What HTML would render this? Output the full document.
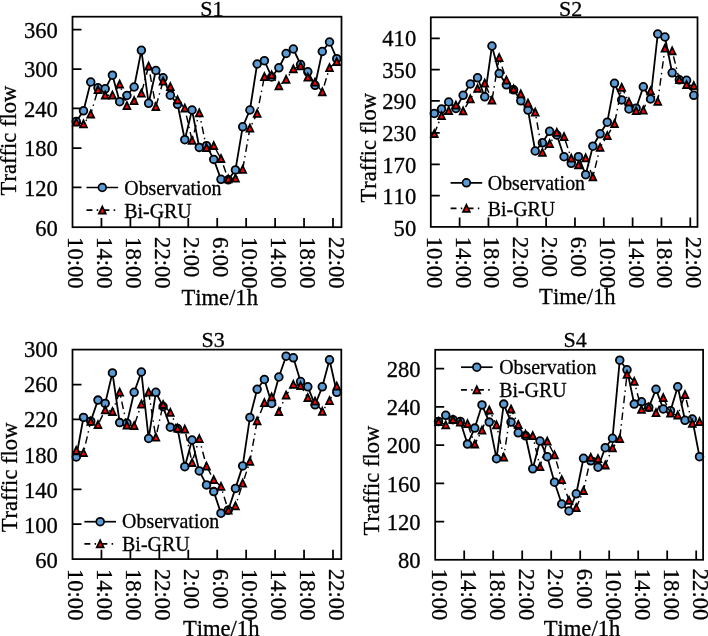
<!DOCTYPE html>
<html lang="en"><head><meta charset="utf-8"><title>Traffic flow prediction S1-S4</title>
<style>html,body{margin:0;padding:0;background:#fff}body{width:708px;height:636px;overflow:hidden}svg{display:block}text{stroke:#000;stroke-width:.3px;font-variant-ligatures:none;font-kerning:none}</style>
</head><body>
<svg width="708" height="636" viewBox="0 0 708 636" font-family="'Liberation Serif', 'Times New Roman', serif" font-size="22.6" fill="#000">
<rect width="708" height="636" fill="#fff"/>
<g id="plot1">
<polyline points="76.26,121.5 83.5,110.8 90.73,82 97.97,87.8 105.2,88.8 112.44,75.2 119.68,101.7 126.91,95.5 134.15,87 141.38,50.3 148.62,103.3 155.86,70.5 163.09,77.8 170.33,95.2 177.56,104.3 184.8,139.7 192.04,110 199.27,147.4 206.51,145.7 213.74,159.4 220.98,179.3 228.22,179.8 235.45,169.9 242.69,126.8 249.92,110 257.16,64 264.4,60.7 271.63,77 278.87,67.8 286.1,53.5 293.34,49 300.58,64.5 307.81,71.8 315.05,85.3 322.28,51.5 329.52,42 336.76,58.7" fill="none" stroke="#000" stroke-width="1.8" stroke-linejoin="round"/>
<g fill="#5b9bd5" stroke="#000" stroke-width="1.8"><circle cx="76.26" cy="121.5" r="3.85"/><circle cx="83.5" cy="110.8" r="3.85"/><circle cx="90.73" cy="82" r="3.85"/><circle cx="97.97" cy="87.8" r="3.85"/><circle cx="105.2" cy="88.8" r="3.85"/><circle cx="112.44" cy="75.2" r="3.85"/><circle cx="119.68" cy="101.7" r="3.85"/><circle cx="126.91" cy="95.5" r="3.85"/><circle cx="134.15" cy="87" r="3.85"/><circle cx="141.38" cy="50.3" r="3.85"/><circle cx="148.62" cy="103.3" r="3.85"/><circle cx="155.86" cy="70.5" r="3.85"/><circle cx="163.09" cy="77.8" r="3.85"/><circle cx="170.33" cy="95.2" r="3.85"/><circle cx="177.56" cy="104.3" r="3.85"/><circle cx="184.8" cy="139.7" r="3.85"/><circle cx="192.04" cy="110" r="3.85"/><circle cx="199.27" cy="147.4" r="3.85"/><circle cx="206.51" cy="145.7" r="3.85"/><circle cx="213.74" cy="159.4" r="3.85"/><circle cx="220.98" cy="179.3" r="3.85"/><circle cx="228.22" cy="179.8" r="3.85"/><circle cx="235.45" cy="169.9" r="3.85"/><circle cx="242.69" cy="126.8" r="3.85"/><circle cx="249.92" cy="110" r="3.85"/><circle cx="257.16" cy="64" r="3.85"/><circle cx="264.4" cy="60.7" r="3.85"/><circle cx="271.63" cy="77" r="3.85"/><circle cx="278.87" cy="67.8" r="3.85"/><circle cx="286.1" cy="53.5" r="3.85"/><circle cx="293.34" cy="49" r="3.85"/><circle cx="300.58" cy="64.5" r="3.85"/><circle cx="307.81" cy="71.8" r="3.85"/><circle cx="315.05" cy="85.3" r="3.85"/><circle cx="322.28" cy="51.5" r="3.85"/><circle cx="329.52" cy="42" r="3.85"/><circle cx="336.76" cy="58.7" r="3.85"/></g>
<polyline points="76.26,122.3 83.5,124 90.73,114.2 97.97,89.7 105.2,95.3 112.44,95.3 119.68,84.2 126.91,105.8 134.15,100.8 141.38,93.3 148.62,66.3 155.86,106.7 163.09,81.2 170.33,86.7 177.56,100 184.8,108.2 192.04,140.5 199.27,113 206.51,147.8 213.74,145.7 220.98,158.6 228.22,179 235.45,178.2 242.69,169.4 249.92,128.2 257.16,113.4 264.4,76.7 271.63,74.9 278.87,86 286.1,79.5 293.34,69 300.58,66 307.81,77.3 315.05,82.3 322.28,92 329.52,67.7 336.76,61.8" fill="none" stroke="#000" stroke-width="1.45" stroke-dasharray="7.5 3.8 1.5 4.2" stroke-linejoin="round"/>
<g fill="#ff0000" stroke="#000" stroke-width="1.8" stroke-linejoin="miter"><path d="M76.26 118.69L79.65 125.7L72.87 125.7Z"/><path d="M83.5 120.39L86.88 127.4L80.11 127.4Z"/><path d="M90.73 110.59L94.12 117.6L87.34 117.6Z"/><path d="M97.97 86.09L101.36 93.1L94.58 93.1Z"/><path d="M105.2 91.69L108.59 98.7L101.82 98.7Z"/><path d="M112.44 91.69L115.83 98.7L109.05 98.7Z"/><path d="M119.68 80.59L123.06 87.6L116.29 87.6Z"/><path d="M126.91 102.19L130.3 109.2L123.52 109.2Z"/><path d="M134.15 97.19L137.54 104.2L130.76 104.2Z"/><path d="M141.38 89.69L144.77 96.7L138 96.7Z"/><path d="M148.62 62.69L152.01 69.7L145.23 69.7Z"/><path d="M155.86 103.09L159.24 110.1L152.47 110.1Z"/><path d="M163.09 77.59L166.48 84.6L159.7 84.6Z"/><path d="M170.33 83.09L173.72 90.1L166.94 90.1Z"/><path d="M177.56 96.39L180.95 103.4L174.18 103.4Z"/><path d="M184.8 104.59L188.19 111.6L181.41 111.6Z"/><path d="M192.04 136.89L195.42 143.9L188.65 143.9Z"/><path d="M199.27 109.39L202.66 116.4L195.88 116.4Z"/><path d="M206.51 144.19L209.9 151.2L203.12 151.2Z"/><path d="M213.74 142.09L217.13 149.1L210.36 149.1Z"/><path d="M220.98 154.99L224.37 162L217.59 162Z"/><path d="M228.22 175.39L231.6 182.4L224.83 182.4Z"/><path d="M235.45 174.59L238.84 181.6L232.06 181.6Z"/><path d="M242.69 165.79L246.08 172.8L239.3 172.8Z"/><path d="M249.92 124.59L253.31 131.6L246.54 131.6Z"/><path d="M257.16 109.79L260.55 116.8L253.77 116.8Z"/><path d="M264.4 73.09L267.78 80.1L261.01 80.1Z"/><path d="M271.63 71.29L275.02 78.3L268.24 78.3Z"/><path d="M278.87 82.39L282.26 89.4L275.48 89.4Z"/><path d="M286.1 75.89L289.49 82.9L282.72 82.9Z"/><path d="M293.34 65.39L296.73 72.4L289.95 72.4Z"/><path d="M300.58 62.39L303.96 69.4L297.19 69.4Z"/><path d="M307.81 73.69L311.2 80.7L304.42 80.7Z"/><path d="M315.05 78.69L318.44 85.7L311.66 85.7Z"/><path d="M322.28 88.39L325.67 95.4L318.9 95.4Z"/><path d="M329.52 64.09L332.91 71.1L326.13 71.1Z"/><path d="M336.76 58.19L340.14 65.2L333.37 65.2Z"/></g>
<line x1="86.5" y1="187.5" x2="118.1" y2="187.5" stroke="#000" stroke-width="1.7"/>
<circle cx="102.3" cy="187.5" r="3.9" fill="#5b9bd5" stroke="#000" stroke-width="1.7"/>
<line x1="86.5" y1="210.2" x2="118.1" y2="210.2" stroke="#000" stroke-width="1.7" stroke-dasharray="5.9 4.3 1.5 5.3"/>
<g fill="#ff0000" stroke="#000" stroke-width="1.8"><path d="M102.3 206.69L105.69 213.7L98.91 213.7Z"/></g>
<text x="124.3" y="194.7" font-size="19.9">Observation</text>
<text x="124.3" y="217.6" font-size="19.9">Bi-GRU</text>
<rect x="72.5" y="16.7" width="269" height="210.5" fill="none" stroke="#000" stroke-width="1.75"/>
<path d="M72.5 187.3h9M72.5 148h9M72.5 108.4h9M72.5 69.1h9M72.5 29.7h9M101.44 227.2v-9.3M130.39 227.2v-9.3M159.33 227.2v-9.3M188.28 227.2v-9.3M217.22 227.2v-9.3M246.16 227.2v-9.3M275.11 227.2v-9.3M304.05 227.2v-9.3M333 227.2v-9.3" stroke="#000" stroke-width="1.75" fill="none"/>
<text x="57.9" y="235.8" text-anchor="end">60</text>
<text x="57.9" y="195.75" text-anchor="end">120</text>
<text x="57.9" y="156.3" text-anchor="end">180</text>
<text x="57.9" y="116.55" text-anchor="end">240</text>
<text x="57.9" y="77.1" text-anchor="end">300</text>
<text x="57.9" y="37.55" text-anchor="end">360</text>
<text transform="translate(68.4,237.1) rotate(90)">10:00</text>
<text transform="translate(97.34,237.1) rotate(90)">14:00</text>
<text transform="translate(126.29,237.1) rotate(90)">18:00</text>
<text transform="translate(155.23,237.1) rotate(90)">22:00</text>
<text transform="translate(184.18,237.1) rotate(90)">2:00</text>
<text transform="translate(213.12,237.1) rotate(90)">6:00</text>
<text transform="translate(242.06,237.1) rotate(90)">10:00</text>
<text transform="translate(271.01,237.1) rotate(90)">14:00</text>
<text transform="translate(299.95,237.1) rotate(90)">18:00</text>
<text transform="translate(328.9,237.1) rotate(90)">22:00</text>
<text x="211.8" y="15.8" text-anchor="middle" font-size="22">S1</text>
<text transform="translate(16,140.5) rotate(-90)" text-anchor="middle">Traffic flow</text>
<text x="219.7" y="304.7" text-anchor="middle">Time/1h</text>
</g>
<g id="plot2">
<polyline points="434.3,113.5 441.51,109 448.72,102 455.92,108.5 463.13,95.3 470.34,84 477.55,77.8 484.76,96.8 491.96,46 499.17,73.5 506.38,84.8 513.59,89.8 520.8,100.8 528,110.1 535.21,151 542.42,142.8 549.63,131.3 556.84,135 564.04,156.7 571.25,163.3 578.46,156.7 585.67,174.7 592.88,146.2 600.08,133.8 607.29,122.2 614.5,83.3 621.71,99.9 628.92,109 636.12,108.2 643.33,86.8 650.54,99 657.75,34 664.96,37 672.16,72.8 679.37,79.8 686.58,80.3 693.79,95.3" fill="none" stroke="#000" stroke-width="1.8" stroke-linejoin="round"/>
<g fill="#5b9bd5" stroke="#000" stroke-width="1.8"><circle cx="434.3" cy="113.5" r="3.85"/><circle cx="441.51" cy="109" r="3.85"/><circle cx="448.72" cy="102" r="3.85"/><circle cx="455.92" cy="108.5" r="3.85"/><circle cx="463.13" cy="95.3" r="3.85"/><circle cx="470.34" cy="84" r="3.85"/><circle cx="477.55" cy="77.8" r="3.85"/><circle cx="484.76" cy="96.8" r="3.85"/><circle cx="491.96" cy="46" r="3.85"/><circle cx="499.17" cy="73.5" r="3.85"/><circle cx="506.38" cy="84.8" r="3.85"/><circle cx="513.59" cy="89.8" r="3.85"/><circle cx="520.8" cy="100.8" r="3.85"/><circle cx="528" cy="110.1" r="3.85"/><circle cx="535.21" cy="151" r="3.85"/><circle cx="542.42" cy="142.8" r="3.85"/><circle cx="549.63" cy="131.3" r="3.85"/><circle cx="556.84" cy="135" r="3.85"/><circle cx="564.04" cy="156.7" r="3.85"/><circle cx="571.25" cy="163.3" r="3.85"/><circle cx="578.46" cy="156.7" r="3.85"/><circle cx="585.67" cy="174.7" r="3.85"/><circle cx="592.88" cy="146.2" r="3.85"/><circle cx="600.08" cy="133.8" r="3.85"/><circle cx="607.29" cy="122.2" r="3.85"/><circle cx="614.5" cy="83.3" r="3.85"/><circle cx="621.71" cy="99.9" r="3.85"/><circle cx="628.92" cy="109" r="3.85"/><circle cx="636.12" cy="108.2" r="3.85"/><circle cx="643.33" cy="86.8" r="3.85"/><circle cx="650.54" cy="99" r="3.85"/><circle cx="657.75" cy="34" r="3.85"/><circle cx="664.96" cy="37" r="3.85"/><circle cx="672.16" cy="72.8" r="3.85"/><circle cx="679.37" cy="79.8" r="3.85"/><circle cx="686.58" cy="80.3" r="3.85"/><circle cx="693.79" cy="95.3" r="3.85"/></g>
<polyline points="434.3,133.7 441.51,115.7 448.72,110.7 455.92,105.3 463.13,111 470.34,99 477.55,88.5 484.76,83.2 491.96,100.2 499.17,57.7 506.38,80.2 513.59,89 520.8,94 528,103.3 535.21,112.3 542.42,152.5 549.63,143.8 556.84,132.5 564.04,136.7 571.25,158.3 578.46,165 585.67,158 592.88,177 600.08,147.5 607.29,135.8 614.5,123.8 621.71,87.4 628.92,102 636.12,110.7 643.33,110.3 650.54,91 657.75,101.5 664.96,48.2 672.16,51 679.37,79.8 686.58,84.8 693.79,85.7" fill="none" stroke="#000" stroke-width="1.45" stroke-dasharray="7.5 3.8 1.5 4.2" stroke-linejoin="round"/>
<g fill="#ff0000" stroke="#000" stroke-width="1.8" stroke-linejoin="miter"><path d="M434.3 130.09L437.69 137.1L430.91 137.1Z"/><path d="M441.51 112.09L444.9 119.1L438.12 119.1Z"/><path d="M448.72 107.09L452.1 114.1L445.33 114.1Z"/><path d="M455.92 101.69L459.31 108.7L452.54 108.7Z"/><path d="M463.13 107.39L466.52 114.4L459.74 114.4Z"/><path d="M470.34 95.39L473.73 102.4L466.95 102.4Z"/><path d="M477.55 84.89L480.94 91.9L474.16 91.9Z"/><path d="M484.76 79.59L488.14 86.6L481.37 86.6Z"/><path d="M491.96 96.59L495.35 103.6L488.58 103.6Z"/><path d="M499.17 54.09L502.56 61.1L495.78 61.1Z"/><path d="M506.38 76.59L509.77 83.6L502.99 83.6Z"/><path d="M513.59 85.39L516.98 92.4L510.2 92.4Z"/><path d="M520.8 90.39L524.18 97.4L517.41 97.4Z"/><path d="M528 99.69L531.39 106.7L524.62 106.7Z"/><path d="M535.21 108.69L538.6 115.7L531.82 115.7Z"/><path d="M542.42 148.89L545.81 155.9L539.03 155.9Z"/><path d="M549.63 140.19L553.02 147.2L546.24 147.2Z"/><path d="M556.84 128.89L560.22 135.9L553.45 135.9Z"/><path d="M564.04 133.09L567.43 140.1L560.66 140.1Z"/><path d="M571.25 154.69L574.64 161.7L567.86 161.7Z"/><path d="M578.46 161.39L581.85 168.4L575.07 168.4Z"/><path d="M585.67 154.39L589.06 161.4L582.28 161.4Z"/><path d="M592.88 173.39L596.26 180.4L589.49 180.4Z"/><path d="M600.08 143.89L603.47 150.9L596.7 150.9Z"/><path d="M607.29 132.19L610.68 139.2L603.9 139.2Z"/><path d="M614.5 120.19L617.89 127.2L611.11 127.2Z"/><path d="M621.71 83.79L625.1 90.8L618.32 90.8Z"/><path d="M628.92 98.39L632.3 105.4L625.53 105.4Z"/><path d="M636.12 107.09L639.51 114.1L632.74 114.1Z"/><path d="M643.33 106.69L646.72 113.7L639.94 113.7Z"/><path d="M650.54 87.39L653.93 94.4L647.15 94.4Z"/><path d="M657.75 97.89L661.14 104.9L654.36 104.9Z"/><path d="M664.96 44.59L668.34 51.6L661.57 51.6Z"/><path d="M672.16 47.39L675.55 54.4L668.78 54.4Z"/><path d="M679.37 76.19L682.76 83.2L675.98 83.2Z"/><path d="M686.58 81.19L689.97 88.2L683.19 88.2Z"/><path d="M693.79 82.09L697.18 89.1L690.4 89.1Z"/></g>
<line x1="450.6" y1="182.8" x2="482.2" y2="182.8" stroke="#000" stroke-width="1.7"/>
<circle cx="466.4" cy="182.8" r="3.9" fill="#5b9bd5" stroke="#000" stroke-width="1.7"/>
<line x1="450.6" y1="208.4" x2="482.2" y2="208.4" stroke="#000" stroke-width="1.7" stroke-dasharray="5.9 4.3 1.5 5.3"/>
<g fill="#ff0000" stroke="#000" stroke-width="1.8"><path d="M466.4 204.89L469.79 211.9L463.01 211.9Z"/></g>
<text x="487.8" y="189.6" font-size="19.9">Observation</text>
<text x="487.8" y="216.1" font-size="19.9">Bi-GRU</text>
<rect x="430.8" y="17.3" width="266.7" height="209.6" fill="none" stroke="#000" stroke-width="1.75"/>
<path d="M430.8 195.5h9M430.8 164.3h9M430.8 132.9h9M430.8 100.8h9M430.8 69.5h9M430.8 38.4h9M459.63 226.9v-9.3M488.46 226.9v-9.3M517.3 226.9v-9.3M546.13 226.9v-9.3M574.96 226.9v-9.3M603.79 226.9v-9.3M632.62 226.9v-9.3M661.46 226.9v-9.3M690.29 226.9v-9.3" stroke="#000" stroke-width="1.75" fill="none"/>
<text x="416.2" y="235.5" text-anchor="end">50</text>
<text x="416.2" y="203.98" text-anchor="end">110</text>
<text x="416.2" y="172.66" text-anchor="end">170</text>
<text x="416.2" y="141.14" text-anchor="end">230</text>
<text x="416.2" y="108.92" text-anchor="end">290</text>
<text x="416.2" y="77.5" text-anchor="end">350</text>
<text x="416.2" y="46.28" text-anchor="end">410</text>
<text transform="translate(426.7,236.8) rotate(90)">10:00</text>
<text transform="translate(455.53,236.8) rotate(90)">14:00</text>
<text transform="translate(484.36,236.8) rotate(90)">18:00</text>
<text transform="translate(513.2,236.8) rotate(90)">22:00</text>
<text transform="translate(542.03,236.8) rotate(90)">2:00</text>
<text transform="translate(570.86,236.8) rotate(90)">6:00</text>
<text transform="translate(599.69,236.8) rotate(90)">10:00</text>
<text transform="translate(628.52,236.8) rotate(90)">14:00</text>
<text transform="translate(657.36,236.8) rotate(90)">18:00</text>
<text transform="translate(686.19,236.8) rotate(90)">22:00</text>
<text x="570.7" y="15.6" text-anchor="middle" font-size="22">S2</text>
<text transform="translate(376,147.7) rotate(-90)" text-anchor="middle">Traffic flow</text>
<text x="577.4" y="303.7" text-anchor="middle">Time/1h</text>
</g>
<g id="plot3">
<polyline points="76.26,457 83.5,417.4 90.73,421.2 97.97,400.1 105.2,403.4 112.44,372.9 119.68,422.6 126.91,423.2 134.15,392.3 141.38,372 148.62,438.5 155.86,392.3 163.09,406.6 170.33,427.2 177.56,428.6 184.8,466.7 192.04,440 199.27,470.9 206.51,484.9 213.74,491.6 220.98,513.2 228.22,510.2 235.45,488.4 242.69,465.9 249.92,417.4 257.16,389.3 264.4,379.5 271.63,403.5 278.87,377 286.1,356.2 293.34,357.8 300.58,381.5 307.81,386.8 315.05,404.8 322.28,386.8 329.52,359.8 336.76,392.3" fill="none" stroke="#000" stroke-width="1.8" stroke-linejoin="round"/>
<g fill="#5b9bd5" stroke="#000" stroke-width="1.8"><circle cx="76.26" cy="457" r="3.85"/><circle cx="83.5" cy="417.4" r="3.85"/><circle cx="90.73" cy="421.2" r="3.85"/><circle cx="97.97" cy="400.1" r="3.85"/><circle cx="105.2" cy="403.4" r="3.85"/><circle cx="112.44" cy="372.9" r="3.85"/><circle cx="119.68" cy="422.6" r="3.85"/><circle cx="126.91" cy="423.2" r="3.85"/><circle cx="134.15" cy="392.3" r="3.85"/><circle cx="141.38" cy="372" r="3.85"/><circle cx="148.62" cy="438.5" r="3.85"/><circle cx="155.86" cy="392.3" r="3.85"/><circle cx="163.09" cy="406.6" r="3.85"/><circle cx="170.33" cy="427.2" r="3.85"/><circle cx="177.56" cy="428.6" r="3.85"/><circle cx="184.8" cy="466.7" r="3.85"/><circle cx="192.04" cy="440" r="3.85"/><circle cx="199.27" cy="470.9" r="3.85"/><circle cx="206.51" cy="484.9" r="3.85"/><circle cx="213.74" cy="491.6" r="3.85"/><circle cx="220.98" cy="513.2" r="3.85"/><circle cx="228.22" cy="510.2" r="3.85"/><circle cx="235.45" cy="488.4" r="3.85"/><circle cx="242.69" cy="465.9" r="3.85"/><circle cx="249.92" cy="417.4" r="3.85"/><circle cx="257.16" cy="389.3" r="3.85"/><circle cx="264.4" cy="379.5" r="3.85"/><circle cx="271.63" cy="403.5" r="3.85"/><circle cx="278.87" cy="377" r="3.85"/><circle cx="286.1" cy="356.2" r="3.85"/><circle cx="293.34" cy="357.8" r="3.85"/><circle cx="300.58" cy="381.5" r="3.85"/><circle cx="307.81" cy="386.8" r="3.85"/><circle cx="315.05" cy="404.8" r="3.85"/><circle cx="322.28" cy="386.8" r="3.85"/><circle cx="329.52" cy="359.8" r="3.85"/><circle cx="336.76" cy="392.3" r="3.85"/></g>
<polyline points="76.26,450.5 83.5,452.8 90.73,421.4 97.97,424.8 105.2,409.9 112.44,411.6 119.68,392.3 126.91,425.2 134.15,425.7 141.38,404.3 148.62,392.3 155.86,437.3 163.09,404.6 170.33,412.4 177.56,428.3 184.8,429.3 192.04,462.6 199.27,438.7 206.51,466.3 213.74,479.8 220.98,486.5 228.22,510.2 235.45,506 242.69,483.3 249.92,461.5 257.16,420.9 264.4,402.8 271.63,397 278.87,411.6 286.1,395.3 293.34,384.5 300.58,385.7 307.81,397.7 315.05,401.2 322.28,411.5 329.52,400.7 336.76,386.2" fill="none" stroke="#000" stroke-width="1.45" stroke-dasharray="7.5 3.8 1.5 4.2" stroke-linejoin="round"/>
<g fill="#ff0000" stroke="#000" stroke-width="1.8" stroke-linejoin="miter"><path d="M76.26 446.89L79.65 453.9L72.87 453.9Z"/><path d="M83.5 449.19L86.88 456.2L80.11 456.2Z"/><path d="M90.73 417.79L94.12 424.8L87.34 424.8Z"/><path d="M97.97 421.19L101.36 428.2L94.58 428.2Z"/><path d="M105.2 406.29L108.59 413.3L101.82 413.3Z"/><path d="M112.44 407.99L115.83 415L109.05 415Z"/><path d="M119.68 388.69L123.06 395.7L116.29 395.7Z"/><path d="M126.91 421.59L130.3 428.6L123.52 428.6Z"/><path d="M134.15 422.09L137.54 429.1L130.76 429.1Z"/><path d="M141.38 400.69L144.77 407.7L138 407.7Z"/><path d="M148.62 388.69L152.01 395.7L145.23 395.7Z"/><path d="M155.86 433.69L159.24 440.7L152.47 440.7Z"/><path d="M163.09 400.99L166.48 408L159.7 408Z"/><path d="M170.33 408.79L173.72 415.8L166.94 415.8Z"/><path d="M177.56 424.69L180.95 431.7L174.18 431.7Z"/><path d="M184.8 425.69L188.19 432.7L181.41 432.7Z"/><path d="M192.04 458.99L195.42 466L188.65 466Z"/><path d="M199.27 435.09L202.66 442.1L195.88 442.1Z"/><path d="M206.51 462.69L209.9 469.7L203.12 469.7Z"/><path d="M213.74 476.19L217.13 483.2L210.36 483.2Z"/><path d="M220.98 482.89L224.37 489.9L217.59 489.9Z"/><path d="M228.22 506.59L231.6 513.6L224.83 513.6Z"/><path d="M235.45 502.39L238.84 509.4L232.06 509.4Z"/><path d="M242.69 479.69L246.08 486.7L239.3 486.7Z"/><path d="M249.92 457.89L253.31 464.9L246.54 464.9Z"/><path d="M257.16 417.29L260.55 424.3L253.77 424.3Z"/><path d="M264.4 399.19L267.78 406.2L261.01 406.2Z"/><path d="M271.63 393.39L275.02 400.4L268.24 400.4Z"/><path d="M278.87 407.99L282.26 415L275.48 415Z"/><path d="M286.1 391.69L289.49 398.7L282.72 398.7Z"/><path d="M293.34 380.89L296.73 387.9L289.95 387.9Z"/><path d="M300.58 382.09L303.96 389.1L297.19 389.1Z"/><path d="M307.81 394.09L311.2 401.1L304.42 401.1Z"/><path d="M315.05 397.59L318.44 404.6L311.66 404.6Z"/><path d="M322.28 407.89L325.67 414.9L318.9 414.9Z"/><path d="M329.52 397.09L332.91 404.1L326.13 404.1Z"/><path d="M336.76 382.59L340.14 389.6L333.37 389.6Z"/></g>
<line x1="84.4" y1="521.7" x2="116" y2="521.7" stroke="#000" stroke-width="1.7"/>
<circle cx="100.2" cy="521.7" r="3.9" fill="#5b9bd5" stroke="#000" stroke-width="1.7"/>
<line x1="84.4" y1="543.8" x2="116" y2="543.8" stroke="#000" stroke-width="1.7" stroke-dasharray="5.9 4.3 1.5 5.3"/>
<g fill="#ff0000" stroke="#000" stroke-width="1.8"><path d="M100.2 540.29L103.59 547.3L96.81 547.3Z"/></g>
<text x="122.1" y="528.3" font-size="19.9">Observation</text>
<text x="122.1" y="551.3" font-size="19.9">Bi-GRU</text>
<rect x="72.5" y="349.6" width="268.8" height="209.5" fill="none" stroke="#000" stroke-width="1.75"/>
<path d="M72.5 524.2h9M72.5 489.3h9M72.5 454.4h9M72.5 419.4h9M72.5 384.5h9M101.44 559.1v-9.3M130.39 559.1v-9.3M159.33 559.1v-9.3M188.28 559.1v-9.3M217.22 559.1v-9.3M246.16 559.1v-9.3M275.11 559.1v-9.3M304.05 559.1v-9.3M333 559.1v-9.3" stroke="#000" stroke-width="1.75" fill="none"/>
<text x="57.9" y="567.7" text-anchor="end">60</text>
<text x="57.9" y="532.67" text-anchor="end">100</text>
<text x="57.9" y="497.63" text-anchor="end">140</text>
<text x="57.9" y="462.6" text-anchor="end">180</text>
<text x="57.9" y="427.47" text-anchor="end">220</text>
<text x="57.9" y="392.43" text-anchor="end">260</text>
<text x="57.9" y="357.4" text-anchor="end">300</text>
<text transform="translate(68.4,569) rotate(90)">10:00</text>
<text transform="translate(97.34,569) rotate(90)">14:00</text>
<text transform="translate(126.29,569) rotate(90)">18:00</text>
<text transform="translate(155.23,569) rotate(90)">22:00</text>
<text transform="translate(184.18,569) rotate(90)">2:00</text>
<text transform="translate(213.12,569) rotate(90)">6:00</text>
<text transform="translate(242.06,569) rotate(90)">10:00</text>
<text transform="translate(271.01,569) rotate(90)">14:00</text>
<text transform="translate(299.95,569) rotate(90)">18:00</text>
<text transform="translate(328.9,569) rotate(90)">22:00</text>
<text x="213.1" y="347" text-anchor="middle" font-size="22">S3</text>
<text transform="translate(16.8,477.4) rotate(-90)" text-anchor="middle">Traffic flow</text>
<text x="221.2" y="636.4" text-anchor="middle">Time/1h</text>
</g>
<g id="plot4">
<polyline points="438.5,421.6 445.75,415.3 453,419.7 460.25,421.4 467.5,444.1 474.75,428.1 482,404.9 489.25,422.1 496.5,458.7 503.75,404.1 511,422.1 518.25,432.8 525.5,435.8 532.75,468.8 540,441 547.25,456.7 554.5,482.2 561.75,504 569,511 576.25,493.8 583.5,458.3 590.75,460.8 598,467.2 605.25,447.7 612.5,438.3 619.75,360.2 627,369.8 634.25,404.1 641.5,401.8 648.75,407.3 656,389.3 663.25,409 670.5,410.7 677.75,386.8 685,420.3 692.25,419 699.5,456.7" fill="none" stroke="#000" stroke-width="1.8" stroke-linejoin="round"/>
<g fill="#5b9bd5" stroke="#000" stroke-width="1.8"><circle cx="438.5" cy="421.6" r="3.85"/><circle cx="445.75" cy="415.3" r="3.85"/><circle cx="453" cy="419.7" r="3.85"/><circle cx="460.25" cy="421.4" r="3.85"/><circle cx="467.5" cy="444.1" r="3.85"/><circle cx="474.75" cy="428.1" r="3.85"/><circle cx="482" cy="404.9" r="3.85"/><circle cx="489.25" cy="422.1" r="3.85"/><circle cx="496.5" cy="458.7" r="3.85"/><circle cx="503.75" cy="404.1" r="3.85"/><circle cx="511" cy="422.1" r="3.85"/><circle cx="518.25" cy="432.8" r="3.85"/><circle cx="525.5" cy="435.8" r="3.85"/><circle cx="532.75" cy="468.8" r="3.85"/><circle cx="540" cy="441" r="3.85"/><circle cx="547.25" cy="456.7" r="3.85"/><circle cx="554.5" cy="482.2" r="3.85"/><circle cx="561.75" cy="504" r="3.85"/><circle cx="569" cy="511" r="3.85"/><circle cx="576.25" cy="493.8" r="3.85"/><circle cx="583.5" cy="458.3" r="3.85"/><circle cx="590.75" cy="460.8" r="3.85"/><circle cx="598" cy="467.2" r="3.85"/><circle cx="605.25" cy="447.7" r="3.85"/><circle cx="612.5" cy="438.3" r="3.85"/><circle cx="619.75" cy="360.2" r="3.85"/><circle cx="627" cy="369.8" r="3.85"/><circle cx="634.25" cy="404.1" r="3.85"/><circle cx="641.5" cy="401.8" r="3.85"/><circle cx="648.75" cy="407.3" r="3.85"/><circle cx="656" cy="389.3" r="3.85"/><circle cx="663.25" cy="409" r="3.85"/><circle cx="670.5" cy="410.7" r="3.85"/><circle cx="677.75" cy="386.8" r="3.85"/><circle cx="685" cy="420.3" r="3.85"/><circle cx="692.25" cy="419" r="3.85"/><circle cx="699.5" cy="456.7" r="3.85"/></g>
<polyline points="438.5,421.6 445.75,424.9 453,419.6 460.25,422.3 467.5,423.8 474.75,444.1 482,430.3 489.25,410.1 496.5,424.9 503.75,457.2 511,409.1 518.25,424.6 525.5,434.2 532.75,435.8 540,466.7 547.25,441.2 554.5,455 561.75,479.8 569,500.5 576.25,507.7 583.5,490.6 590.75,457.5 598,458.7 605.25,465.1 612.5,448 619.75,438.8 627,374.5 634.25,381.5 641.5,409.5 648.75,407.3 656,412.8 663.25,397.7 670.5,413.2 677.75,415.3 685,394.8 692.25,423.5 699.5,421.8" fill="none" stroke="#000" stroke-width="1.45" stroke-dasharray="7.5 3.8 1.5 4.2" stroke-linejoin="round"/>
<g fill="#ff0000" stroke="#000" stroke-width="1.8" stroke-linejoin="miter"><path d="M438.5 417.99L441.89 425L435.11 425Z"/><path d="M445.75 421.29L449.14 428.3L442.36 428.3Z"/><path d="M453 415.99L456.39 423L449.61 423Z"/><path d="M460.25 418.69L463.64 425.7L456.86 425.7Z"/><path d="M467.5 420.19L470.89 427.2L464.11 427.2Z"/><path d="M474.75 440.49L478.14 447.5L471.36 447.5Z"/><path d="M482 426.69L485.39 433.7L478.61 433.7Z"/><path d="M489.25 406.49L492.64 413.5L485.86 413.5Z"/><path d="M496.5 421.29L499.89 428.3L493.11 428.3Z"/><path d="M503.75 453.59L507.14 460.6L500.36 460.6Z"/><path d="M511 405.49L514.39 412.5L507.61 412.5Z"/><path d="M518.25 420.99L521.64 428L514.86 428Z"/><path d="M525.5 430.59L528.89 437.6L522.11 437.6Z"/><path d="M532.75 432.19L536.14 439.2L529.36 439.2Z"/><path d="M540 463.09L543.39 470.1L536.61 470.1Z"/><path d="M547.25 437.59L550.64 444.6L543.86 444.6Z"/><path d="M554.5 451.39L557.89 458.4L551.11 458.4Z"/><path d="M561.75 476.19L565.14 483.2L558.36 483.2Z"/><path d="M569 496.89L572.39 503.9L565.61 503.9Z"/><path d="M576.25 504.09L579.64 511.1L572.86 511.1Z"/><path d="M583.5 486.99L586.89 494L580.11 494Z"/><path d="M590.75 453.89L594.14 460.9L587.36 460.9Z"/><path d="M598 455.09L601.39 462.1L594.61 462.1Z"/><path d="M605.25 461.49L608.64 468.5L601.86 468.5Z"/><path d="M612.5 444.39L615.89 451.4L609.11 451.4Z"/><path d="M619.75 435.19L623.14 442.2L616.36 442.2Z"/><path d="M627 370.89L630.39 377.9L623.61 377.9Z"/><path d="M634.25 377.89L637.64 384.9L630.86 384.9Z"/><path d="M641.5 405.89L644.89 412.9L638.11 412.9Z"/><path d="M648.75 403.69L652.14 410.7L645.36 410.7Z"/><path d="M656 409.19L659.39 416.2L652.61 416.2Z"/><path d="M663.25 394.09L666.64 401.1L659.86 401.1Z"/><path d="M670.5 409.59L673.89 416.6L667.11 416.6Z"/><path d="M677.75 411.69L681.14 418.7L674.36 418.7Z"/><path d="M685 391.19L688.39 398.2L681.61 398.2Z"/><path d="M692.25 419.89L695.64 426.9L688.86 426.9Z"/><path d="M699.5 418.19L702.89 425.2L696.11 425.2Z"/></g>
<line x1="461" y1="367.2" x2="492.6" y2="367.2" stroke="#000" stroke-width="1.7"/>
<circle cx="476.8" cy="367.2" r="3.9" fill="#5b9bd5" stroke="#000" stroke-width="1.7"/>
<line x1="461" y1="389.8" x2="492.6" y2="389.8" stroke="#000" stroke-width="1.7" stroke-dasharray="5.9 4.3 1.5 5.3"/>
<g fill="#ff0000" stroke="#000" stroke-width="1.8"><path d="M476.8 386.29L480.19 393.3L473.41 393.3Z"/></g>
<text x="499.2" y="374.4" font-size="19.9">Observation</text>
<text x="499.2" y="396.5" font-size="19.9">Bi-GRU</text>
<rect x="435.2" y="349.8" width="267.9" height="210" fill="none" stroke="#000" stroke-width="1.75"/>
<path d="M435.2 521.6h9M435.2 483.4h9M435.2 445.1h9M435.2 406.8h9M435.2 368.7h9M464.2 559.8v-9.3M493.2 559.8v-9.3M522.2 559.8v-9.3M551.2 559.8v-9.3M580.2 559.8v-9.3M609.2 559.8v-9.3M638.2 559.8v-9.3M667.2 559.8v-9.3M696.2 559.8v-9.3" stroke="#000" stroke-width="1.75" fill="none"/>
<text x="420.6" y="568.4" text-anchor="end">80</text>
<text x="420.6" y="530.05" text-anchor="end">120</text>
<text x="420.6" y="491.71" text-anchor="end">160</text>
<text x="420.6" y="453.26" text-anchor="end">200</text>
<text x="420.6" y="414.82" text-anchor="end">240</text>
<text x="420.6" y="376.57" text-anchor="end">280</text>
<text transform="translate(431.5,568.8) rotate(90)">10:00</text>
<text transform="translate(460.5,568.8) rotate(90)">14:00</text>
<text transform="translate(489.5,568.8) rotate(90)">18:00</text>
<text transform="translate(518.5,568.8) rotate(90)">22:00</text>
<text transform="translate(547.5,568.8) rotate(90)">2:00</text>
<text transform="translate(576.5,568.8) rotate(90)">6:00</text>
<text transform="translate(605.5,568.8) rotate(90)">10:00</text>
<text transform="translate(634.5,568.8) rotate(90)">14:00</text>
<text transform="translate(663.5,568.8) rotate(90)">18:00</text>
<text transform="translate(692.5,568.8) rotate(90)">22:00</text>
<text x="575.2" y="346.6" text-anchor="middle" font-size="22">S4</text>
<text transform="translate(379,480.5) rotate(-90)" text-anchor="middle">Traffic flow</text>
<text x="582" y="636.4" text-anchor="middle">Time/1h</text>
</g>
</svg>
</body></html>
